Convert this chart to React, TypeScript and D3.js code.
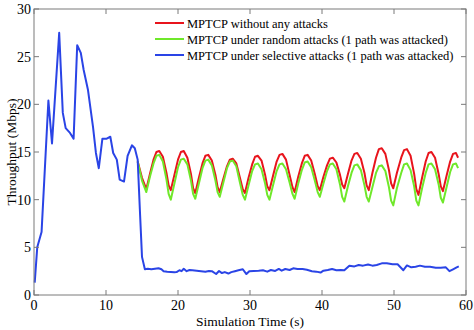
import React from "react";
import * as d3 from "d3";

const W = 474;
const H = 330;

const xTicks = [0, 10, 20, 30, 40, 50, 60];
const yTicks = [0, 5, 10, 15, 20, 25, 30];

const blueT = [0.1, 0.45, 1.05, 2.0, 2.5, 3.5, 4.0, 4.4, 5.0, 5.5, 6.0, 6.5, 6.9, 7.5, 8.2, 8.6, 9.0, 9.5, 10.1, 10.6, 11.0, 11.5, 11.9, 12.5, 13.0, 13.6, 14.0, 14.4, 14.7, 15.0, 15.4,
  15.8, 16.3, 16.8, 17.3, 17.7, 18.0, 18.5, 19.0, 19.5, 19.8, 20.2, 20.5, 20.8, 21.2, 21.6, 22.0, 22.6, 23.2, 23.8, 24.3, 24.7, 25.3, 25.7, 26.1, 26.5, 27.0, 27.4, 27.9, 28.4, 29.0, 29.5, 29.9,
  30.5, 31.2, 31.8, 32.4, 32.9, 33.5, 34.0, 34.4, 34.9, 35.5, 36.0, 36.6, 37.3, 37.9, 38.6, 39.2, 39.8, 40.2, 40.8, 41.4, 42.0, 42.6, 43.1, 43.8, 44.5, 45.1, 45.7, 46.4, 47.0, 47.6, 48.3, 49.0, 49.8,
  50.5, 51.3, 51.8, 52.4, 53.0, 53.6, 54.3, 55.0, 55.8, 56.5, 57.2, 57.7, 58.2, 58.7, 59.0];
const blueV = [1.3, 5.0, 6.6, 20.4, 15.9, 27.5, 19.1, 17.5, 17.0, 16.4, 26.2, 25.4, 23.6, 21.5, 17.6, 14.9, 13.3, 16.4, 16.4, 16.6, 14.9, 14.2, 12.1, 11.9, 14.6, 15.7, 15.4, 14.2, 9.0, 4.0, 2.7,
  2.75, 2.7, 2.75, 2.8, 2.7, 2.5, 2.45, 2.42, 2.38, 2.4, 2.6, 2.5, 2.75, 2.5, 2.62, 2.6, 2.55, 2.5, 2.45, 2.52, 2.5, 2.2, 2.52, 2.3, 2.4, 2.25, 2.4, 2.5, 2.6, 2.7, 2.2, 2.5,
  2.52, 2.55, 2.6, 2.45, 2.62, 2.52, 2.73, 2.55, 2.73, 2.62, 2.8, 2.73, 2.73, 2.65, 2.5, 2.45, 2.35, 2.55, 2.62, 2.73, 2.6, 2.62, 2.6, 3.08, 3.0, 3.15, 3.08, 3.2, 3.08, 3.15, 3.32, 3.32, 3.22,
  3.22, 2.6, 3.1, 2.9, 2.97, 3.08, 2.97, 2.97, 2.85, 2.85, 2.9, 2.5, 2.7, 2.9, 3.0];

const rgT = [14.4, 15.0,
  15.6, 16.1, 16.6, 17.0, 17.4, 17.9, 18.4, 18.7,
  19.0, 19.5, 20.0, 20.4, 20.8, 21.3, 21.8, 22.1,
  22.4, 22.9, 23.4, 23.8, 24.2, 24.7, 25.2, 25.5,
  25.8, 26.3, 26.8, 27.2, 27.6, 28.1, 28.6, 29.0,
  29.3, 29.8, 30.3, 30.7, 31.1, 31.6, 32.1, 32.4,
  32.7, 33.2, 33.7, 34.1, 34.5, 35.0, 35.5, 35.9,
  36.2, 36.7, 37.2, 37.6, 38.0, 38.5, 39.0, 39.4,
  39.7, 40.2, 40.7, 41.1, 41.5, 42.0, 42.5, 42.8,
  43.1, 43.6, 44.1, 44.5, 44.9, 45.4, 45.9, 46.2,
  46.5, 47.0, 47.5, 47.9, 48.3, 48.8, 49.3, 49.6,
  49.9, 50.4, 51.0, 51.4, 51.8, 52.3, 52.8, 53.1,
  53.4, 53.9, 54.4, 54.8, 55.2, 55.7, 56.2, 56.5,
  56.8, 57.3, 57.8, 58.2, 58.6, 58.9];

const redV = [14.0, 12.3,
  11.1, 12.7, 14.2, 15.0, 15.1, 14.5, 12.8, 11.5,
  11.0, 12.6, 14.2, 15.0, 15.1, 14.4, 12.7, 11.2,
  10.7, 12.3, 13.8, 14.6, 14.7, 14.1, 12.6, 11.3,
  10.8, 12.2, 13.5, 14.2, 14.3, 13.8, 12.3, 11.1,
  10.7, 12.3, 13.7, 14.5, 14.6, 14.1, 12.6, 11.4,
  11.0, 12.5, 14.0, 14.7, 14.8, 14.2, 12.6, 11.3,
  10.8, 12.4, 13.8, 14.6, 14.7, 14.1, 12.7, 11.4,
  11.0, 12.4, 13.6, 14.3, 14.4, 13.9, 12.6, 11.6,
  11.2, 12.7, 14.1, 14.8, 14.9, 14.3, 12.8, 11.5,
  11.0, 12.8, 14.4, 15.3, 15.4, 14.8, 13.1, 11.7,
  11.2, 12.8, 14.4, 15.2, 15.3, 14.6, 12.7, 11.1,
  10.5, 12.3, 14.0, 14.9, 15.0, 14.4, 12.7, 11.4,
  10.9, 12.5, 14.0, 14.8, 14.9, 14.4];

const greenV = [14.0, 12.0,
  10.8, 12.4, 13.8, 14.6, 14.7, 14.0, 12.1, 10.6,
  10.0, 11.7, 13.4, 14.2, 14.3, 13.7, 12.0, 10.6,
  10.1, 11.7, 13.3, 14.1, 14.2, 13.6, 12.0, 10.8,
  10.3, 11.8, 13.3, 14.0, 14.1, 13.5, 11.8, 10.5,
  10.0, 11.5, 13.0, 13.7, 13.8, 13.2, 11.7, 10.5,
  10.0, 11.5, 13.0, 13.7, 13.8, 13.2, 11.8, 10.6,
  10.1, 11.7, 13.1, 13.9, 14.0, 13.4, 12.0, 10.8,
  10.3, 11.7, 13.0, 13.7, 13.8, 13.2, 11.6, 10.3,
  9.8, 11.4, 12.8, 13.6, 13.7, 13.1, 11.5, 10.3,
  9.8, 11.3, 12.8, 13.5, 13.6, 13.0, 11.3, 9.9,
  9.4, 11.2, 12.8, 13.7, 13.8, 13.1, 11.4, 9.9,
  9.4, 11.2, 12.8, 13.7, 13.8, 13.2, 11.6, 10.2,
  9.7, 11.3, 12.9, 13.7, 13.8, 13.3];

const seriesNames = [
  "MPTCP without any attacks",
  "MPTCP under random attacks (1 path was attacked)",
  "MPTCP under selective attacks (1 path was attacked)",
];
const seriesColors = ["#e8141c", "#6fe82a", "#2a44e6"];

export default function App() {
  const left = 34, right = 466, top = 9, bottom = 295;
  const x = d3.scaleLinear().domain([0, 60]).range([left, right]);
  const y = d3.scaleLinear().domain([0, 30]).range([bottom, top]);
  const line = d3.line<[number, number]>().x((d) => x(d[0])).y((d) => y(d[1]));
  const red = rgT.map((t, i) => [t, redV[i]] as [number, number]);
  const green = rgT.map((t, i) => [t, greenV[i]] as [number, number]);
  const blue = blueT.map((t, i) => [t, blueV[i]] as [number, number]);
  const axisColor = "#7a7a7a";
  const font = "'Liberation Serif', 'Times New Roman', serif";
  const tl = 5;

  return (
    <svg width={W} height={H} style={{ position: "absolute", left: 0, top: 0, background: "#fff" }} fontFamily={font}>
      <rect x={0} y={0} width={W} height={H} fill="#fff" />
      {/* lines */}
      <path d={line(red) || ""} fill="none" stroke={seriesColors[0]} strokeWidth={2} strokeLinejoin="round" />
      <path d={line(green) || ""} fill="none" stroke={seriesColors[1]} strokeWidth={2} strokeLinejoin="round" />
      <path d={line(blue) || ""} fill="none" stroke={seriesColors[2]} strokeWidth={2} strokeLinejoin="round" />
      {/* frame */}
      <rect x={left} y={top} width={right - left} height={bottom - top} fill="none" stroke={axisColor} strokeWidth={1} />
      {xTicks.map((t) => (
        <g key={"x" + t}>
          <line x1={x(t)} x2={x(t)} y1={bottom} y2={bottom - tl} stroke={axisColor} />
          <line x1={x(t)} x2={x(t)} y1={top} y2={top + tl} stroke={axisColor} />
          <text x={x(t)} y={310} fontSize={14} textAnchor="middle" fill="#000">{t}</text>
        </g>
      ))}
      {yTicks.map((t) => (
        <g key={"y" + t}>
          <line x1={left} x2={left + tl} y1={y(t)} y2={y(t)} stroke={axisColor} />
          <line x1={right} x2={right - tl} y1={y(t)} y2={y(t)} stroke={axisColor} />
          <text x={31} y={y(t) + 5} fontSize={14} textAnchor="end" fill="#000">{t}</text>
        </g>
      ))}
      <text x={(left + right) / 2} y={326} fontSize={13.5} textAnchor="middle" fill="#000">Simulation Time (s)</text>
      <text transform={`translate(16, ${(top + bottom) / 2}) rotate(-90)`} fontSize={13.5} textAnchor="middle" fill="#000">Throughput (Mbps)</text>
      {/* legend */}
      {seriesNames.map((name, i) => (
        <g key={name}>
          <line x1={155} x2={184} y1={23 + i * 16} y2={23 + i * 16} stroke={seriesColors[i]} strokeWidth={2} />
          <text x={187} y={23 + i * 16 + 4.5} fontSize={12.5} fill="#000">{name}</text>
        </g>
      ))}
    </svg>
  );
}
